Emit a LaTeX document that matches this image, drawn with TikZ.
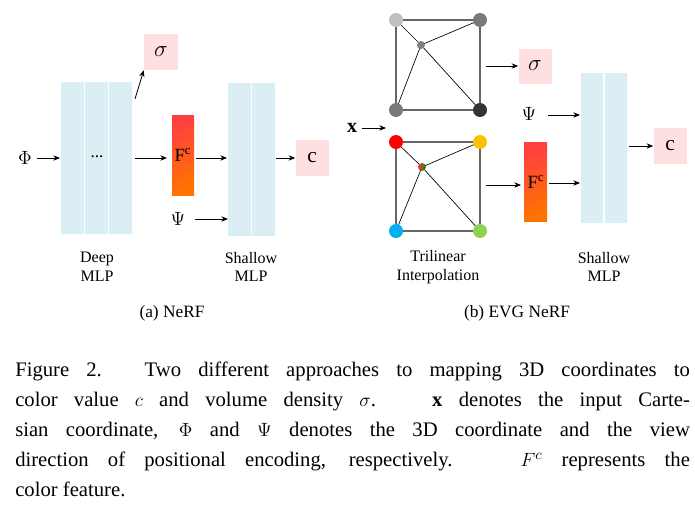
\documentclass[tikz,border=0pt]{standalone}
\usepackage{fontspec}
\setmainfont{Liberation Serif}
\usetikzlibrary{arrows.meta}
\begin{document}
\begin{tikzpicture}[x=0.75pt,y=-0.75pt,
  outbox/.style={fill=red!12,inner sep=0pt,font=\fontsize{16}{16}\selectfont},
  arr/.style={-{Stealth[length=5pt,width=4pt]},line width=0.6pt},
  lbl/.style={font=\fontsize{12}{14}\selectfont,align=center},
  edge/.style={line width=0.5pt},
  frame/.style={draw=gray!80!black,line width=1.1pt},
  dot/.style={circle,minimum size={14*0.75pt},inner sep=0pt}]
\useasboundingbox (0,0) rectangle (695,514);
\definecolor{mlpc}{HTML}{DAEEF3}
% ---- (a) NeRF
\fill[mlpc] (61,82) rectangle (84,234) (85,82) rectangle (108,234) (109,82) rectangle (132,234);
\node (dots) at (97,157) {\fontsize{13}{13}\selectfont ...};
\node[outbox,minimum width={34*0.75pt},minimum height={36*0.75pt}] (s1) at (161,52) {$\sigma$};
\node (phi) at (25,158) {\fontsize{15}{15}\selectfont $\Phi$};
\shade[top color=red!75,middle color=green!55!yellow!90!black,bottom color=orange!90!red,shading angle=25] (172,115) rectangle (194,195);
\node (f1) at (183,155) {\fontsize{14}{14}\selectfont F$^{\mathrm{c}}$};
\fill[mlpc] (228,83) rectangle (251,236) (252,83) rectangle (275,236);
\node[outbox,minimum width={33*0.75pt},minimum height={36*0.75pt}] (c1) at (312,158) {c};
\node (psi1) at (178,219) {\fontsize{14}{14}\selectfont $\Psi$};
\draw[arr] (phi.east) -- (60,158);
\draw[arr] (135,99) -- (s1.south west);
\draw[arr] (135,158) -- (167,158);
\draw[arr] (196,158) -- (227,158);
\draw[arr] (195,219) -- (228,219);
\draw[arr] (276,158) -- (c1.west);
\node[lbl] at (97,267) {Deep\\MLP};
\node[lbl] at (251,267) {Shallow\\MLP};
\node[font=\fontsize{13}{13}\selectfont] at (172,313) {(a) NeRF};
% ---- (b) EVG NeRF
\coordinate (i1) at (421,45);
\draw[frame] (396,20) -- (480,20) -- (480,110) -- (396,110) -- cycle;
\draw[edge] (396,20) -- (i1) -- (480,20) (i1) -- (396,110) (i1) -- (480,110);
\node[dot,fill=gray!50] at (396,20) {};
\node[dot,fill=gray!95!black] at (480,20) {};
\node[dot,fill=gray!95!black] at (396,110) {};
\node[dot,fill=black!80] at (480,110) {};
\node[circle,fill=gray,minimum size={8*0.75pt},inner sep=0pt] at (i1) {};
\coordinate (i2) at (422,167);
\draw[frame] (396,142) -- (480,142) -- (480,231) -- (396,231) -- cycle;
\draw[edge] (396,142) -- (i2) -- (480,142) (i2) -- (396,231) (i2) -- (480,231);
\node[dot,fill=red] at (396,142) {};
\node[dot,fill={rgb,255:red,255;green,192;blue,0}] at (480,142) {};
\node[dot,fill={rgb,255:red,0;green,176;blue,240}] at (396,231) {};
\node[dot,fill={rgb,255:red,146;green,208;blue,80}] at (480,231) {};
\shade[left color=red!80,right color=green!60!black] (i2) circle (4);
\node[outbox,minimum width={33*0.75pt},minimum height={35*0.75pt}] (s2) at (535,66) {$\sigma$};
\node (x) at (352,128) {\fontsize{15}{15}\selectfont $\mathbf{x}$};
\draw[arr] (362,128) -- (386,128);
\draw[arr] (486,66) -- (s2.west);
\draw[arr] (486,185) -- (521,185);
\shade[top color=red!75,middle color=green!55!yellow!90!black,bottom color=orange!90!red,shading angle=25] (524,142) rectangle (547,221);
\node (f2) at (536,182) {\fontsize{14}{14}\selectfont F$^{\mathrm{c}}$};
\node (psi2) at (529,114) {\fontsize{14}{14}\selectfont $\Psi$};
\fill[mlpc] (581,73) rectangle (603,223) (605,73) rectangle (627,223);
\draw[arr] (548,115) -- (580,115);
\draw[arr] (549,183) -- (580,183);
\node[outbox,minimum width={33*0.75pt},minimum height={36*0.75pt}] (c2) at (670,146) {c};
\draw[arr] (629,146) -- (c2.west);
\node[lbl] at (438,267) {Trilinear\\Interpolation};
\node[lbl] at (604,267) {Shallow\\MLP};
\node[font=\fontsize{13}{13}\selectfont] at (517,313) {(b) EVG NeRF};
% ---- caption
\begin{scope}[every node/.style={anchor=base west,inner sep=0pt,font=\fontsize{15.5}{15.5}\selectfont}]
\node at (15,376) {\makebox[506pt][s]{Figure 2. Two different approaches to mapping 3D coordinates to}};
\node at (15,406) {\makebox[506pt][s]{color value $c$ and volume density $\sigma$. \ $\mathbf{x}$ denotes the input Carte-}};
\node at (15,436) {\makebox[506pt][s]{sian coordinate, $\Phi$ and $\Psi$ denotes the 3D coordinate and the view}};
\node at (15,466) {\makebox[506pt][s]{direction of positional encoding, respectively. \ $F^c$ represents the}};
\node at (15,496) {color feature.};
\end{scope}
\end{tikzpicture}
\end{document}
